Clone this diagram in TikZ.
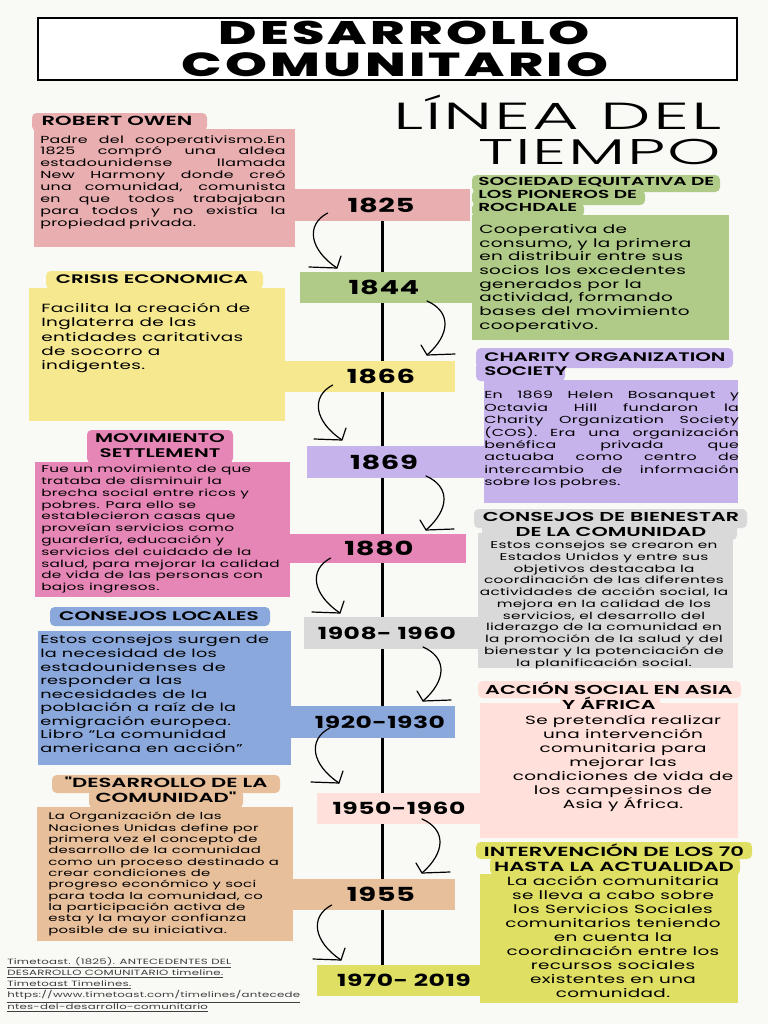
\documentclass[tikz,border=0pt]{standalone}
\usepackage{fontspec}
\setmainfont{Poppins}[LetterSpace=3,FakeStretch=1.55]
\newfontfamily\labelfont{Poppins SemiBold}[FakeStretch=1.6]
\newfontfamily\yearfont{Poppins}[BoldFont={Poppins Bold},LetterSpace=3,FakeStretch=1.5]
\newfontfamily\headfont{Poppins Light}[LetterSpace=5,FakeStretch=1.9]
\newfontfamily\titlefont{Poppins ExtraBold}[LetterSpace=10,FakeStretch=1.6]
\newcommand\fs[2]{\fontsize{#1}{#2}\selectfont\lineskiplimit=-20pt\relax}
\newcommand\jl[1]{\hbox to \hsize{\spaceskip=.3em plus 1fil\xspaceskip=.3em plus 1fil\relax #1}\par}
\newcommand\lastl[1]{\hbox to \hsize{#1\hfil}\par}
\definecolor{paper}{HTML}{F9FAF6}
\definecolor{owenpink}{HTML}{E8AEB0}
\definecolor{rochgreen}{HTML}{B0CB87}
\definecolor{crisisyellow}{HTML}{F5E88F}
\definecolor{charitypurple}{HTML}{C7B3EC}
\definecolor{settlepink}{HTML}{E586B6}
\definecolor{bienestargrey}{HTML}{D9D9D9}
\definecolor{localblue}{HTML}{8BA8DC}
\definecolor{accionrose}{HTML}{FFE0DA}
\definecolor{desatan}{HTML}{E8BF9B}
\definecolor{interlime}{HTML}{DFDF64}
\definecolor{citegrey}{HTML}{3F3F3F}
\tikzset{
  txt/.style={anchor=north west,inner sep=0pt,align=left},
  ctr/.style={anchor=north,inner sep=0pt,align=center},
  lab/.style={inner sep=0pt,align=center},
  sketch/.style={line width=.9pt,line cap=round,line join=round}
}
\newcommand\labsz[1]{\labelfont\fs{#1}{11.2}}
\begin{document}
\begin{tikzpicture}[x=.75pt,y=-.75pt]
  \useasboundingbox (0,0) rectangle (768,1024);
  \fill[paper] (0,0) rectangle (768,1024);
  % title
  \node (titlebox) [draw=black,fill=white,line width=1.2pt,minimum width=524pt,minimum height=46.5pt,inner sep=0pt] at (387.5,49) {};
  \node (title1) [font=\titlefont\fs{24.5}{27},inner sep=0pt] at (404,33) {DESARROLLO};
  \node (title2) [font=\titlefont\fs{25}{27},inner sep=0pt] at (395,65) {COMUNITARIO};
  \node (head1) [font=\headfont\fs{28.3}{34},inner sep=0pt] at (557.5,112) {LÍNEA DEL};
  \node (head2) [font=\headfont\fs{26.8}{34},inner sep=0pt] at (600,152) {TIEMPO};
  % spine
  \coordinate (spinetop) at (382.5,221);
  \coordinate (spinebot) at (382.5,965);
  \draw[line width=2.6pt] (spinetop) -- (spinebot);
  % body boxes
  \foreach \xa/\ya/\xb/\yb/\col in {34/129/295/247/owenpink,472/215/729/340/rochgreen,
    29/288/285/421/crisisyellow,484/380/738/503/charitypurple,35/462/290/597/settlepink,
    478/533/733/668/bienestargrey,38/631/291/765/localblue,480/703/738/838/accionrose,
    37/807/293/941/desatan,480/874/738/1003/interlime} {
    \fill[\col] (\xa,\ya) rectangle (\xb,\yb);
  }
  % year bars
  \foreach \nm/\xa/\ya/\xb/\yb/\tx/\col/\sz/\yr in {y1825/295/189/470/221/381/owenpink/14.5/1825,
    y1844/300/272/472/303/384/rochgreen/14.5/1844,y1866/285/361/455/392/381/crisisyellow/14.5/1866,
    y1869/307/446/484/478/384/charitypurple/14.5/1869,y1880/290/534/466/563/379/settlepink/14.5/1880,
    y1908/304/617/478/649/387/bienestargrey/12.5/1908- 1960,y1920/291/706/455/738/380/localblue/12.5/1920-1930,
    y1950/317/793/480/824/399/accionrose/12.5/1950-1960,y1955/293/879/455/910/381/desatan/14.5/1955,
    y1970/317/965/480/996/404/interlime/12.5/1970- 2019} {
    \fill[\col] (\xa,\ya) rectangle (\xb,\yb);
    \node (\nm) [font=\yearfont\bfseries\fs{\sz}{16},inner sep=0pt] at (\tx,{(\ya+\yb)/2}) {\yr};
  }
  % label tabs
  \foreach \xa/\ya/\xb/\yb/\col in {32/113/207/131/owenpink,472/175/720/192/rochgreen,472/190/645/205/rochgreen,
    472/203/584/217/rochgreen,46/271/263/289/crisisyellow,476/348/733/368/charitypurple,476/362/565/381/charitypurple,
    87/430/233/463/settlepink,474/509/747/528/bienestargrey,482/522/737/540/bienestargrey,50/607/270/626/localblue,
    478/681/741/698/accionrose,560/696/660/712/accionrose,52/775/280/793/desatan,89/790/243/808/desatan,
    476/842/752/859/interlime,490/857/740/875/interlime} {
    \fill[\col,rounded corners=3.5pt] (\xa,\ya) rectangle (\xb,\yb);
  }
  \node (owenlab) [lab,font=\labsz{9.9}] at (117,121) {ROBERT OWEN};
  \node (rochlab) [lab,font=\labelfont\fs{8.7}{9.8},anchor=north west,align=left] at (478,177) {SOCIEDAD EQUITATIVA DE\\LOS PIONEROS DE\\ROCHDALE};
  \node (crisislab) [lab,font=\labsz{9.3}] at (152,279) {CRISIS ECONOMICA};
  \node (charitylab) [lab,font=\labsz{9.3},anchor=north west,align=left] at (484,352) {CHARITY ORGANIZATION\\SOCIETY};
  \node (settlelab) [lab,font=\labsz{9.4}] at (160,446) {MOVIMIENTO\\SETTLEMENT};
  \node (bienlab) [lab,font=\labsz{9.7}] at (611,524) {CONSEJOS DE BIENESTAR\\DE LA COMUNIDAD};
  \node (locallab) [lab,font=\labsz{9.4}] at (159,616) {CONSEJOS LOCALES};
  \node (accionlab) [lab,font=\labsz{9.7}] at (609,696) {ACCIÓN SOCIAL EN ASIA\\Y ÁFRICA};
  \node (desalab) [lab,font=\labsz{9.9}] at (166,790) {"DESARROLLO DE LA\\COMUNIDAD"};
  \node (interlab) [lab,font=\labsz{9.9}] at (614,858) {INTERVENCIÓN DE LOS 70\\HASTA LA ACTUALIDAD};
  % body texts
  \node (owentxt) [txt,text width=184pt,font=\fs{7.65}{8.95}] at (40,135) {%
    \jl{Padre del cooperativismo.En}\jl{1825 compró una aldea}\jl{estadounidense llamada}%
    \jl{New Harmony donde creó}\jl{una comunidad, comunista}\jl{en que todos trabajaban}%
    \jl{para todos y no existía la}\lastl{propiedad privada.}};
  \node (rochtxt) [txt,font=\fs{8.9}{10.3}] at (479,224) {Cooperativa de\\consumo, y la primera\\en distribuir entre sus\\socios los excedentes\\generados por la\\actividad, formando\\bases del movimiento\\cooperativo.};
  \node (crisistxt) [txt,font=\fs{8.9}{10.75}] at (41,303) {Facilita la creación de\\Inglaterra de las\\entidades caritativas\\de socorro a\\indigentes.};
  \node (charitytxt) [txt,text width=191pt,font=\fs{7.65}{9.3}] at (484,391) {%
    \jl{En 1869 Helen Bosanquet y}\jl{Octavia Hill fundaron la}\jl{Charity Organization Society}%
    \jl{(COS). Era una organización}\jl{benéfica privada que}\jl{actuaba como centro de}%
    \jl{intercambio de información}\lastl{sobre los pobres.}};
  \node (settletxt) [txt,font=\fs{7.4}{8.85}] at (41,465) {Fue un movimiento de que\\trataba de disminuir la\\brecha social entre ricos y\\pobres. Para ello se\\establecieron casas que\\proveían servicios como\\guardería, educación y\\servicios del cuidado de la\\salud, para mejorar la calidad\\de vida de las personas con\\bajos ingresos.};
  \node (bientxt) [ctr,font=\fs{7.4}{8.8}] at (604,541) {Estos consejos se crearon en\\Estados Unidos y entre sus\\objetivos destacaba la\\coordinación de las diferentes\\actividades de acción social, la\\mejora en la calidad de los\\servicios, el desarrollo del\\liderazgo de la comunidad en\\la promoción de la salud y del\\bienestar y la potenciación de\\la planificación social.};
  \node (localtxt) [txt,font=\fs{8.55}{10.15}] at (40,635) {Estos consejos surgen de\\la necesidad de los\\estadounidenses de\\responder a las\\necesidades de la\\población a raíz de la\\emigración europea.\\Libro “La comunidad\\americana en acción”};
  \node (acciontxt) [ctr,font=\fs{8.9}{10.5}] at (623,715) {Se pretendía realizar\\una intervención\\comunitaria para\\mejorar las\\condiciones de vida de\\los campesinos de\\Asia y África.};
  \node (desatxt) [txt,font=\fs{7.2}{8.5}] at (48,812) {La Organización de las\\Naciones Unidas define por\\primera vez el concepto de\\desarrollo de la comunidad\\como un proceso destinado a\\crear condiciones de\\progreso económico y soci\\para toda la comunidad, co\\la participación activa de\\esta y la mayor confianza\\posible de su iniciativa.};
  \node (intertxt) [ctr,font=\fs{8.9}{10.5}] at (613,876) {La acción comunitaria\\se lleva a cabo sobre\\los Servicios Sociales\\comunitarios teniendo\\en cuenta la\\coordinación entre los\\recursos sociales\\existentes en una\\comunidad.};
  \node (citetxt) [txt,text=citegrey,font=\fs{5.7}{8.4}] at (7,957) {\underline{Timetoast. (1825). ANTECEDENTES DEL}\\\underline{DESARROLLO COMUNITARIO timeline.}\\\underline{Timetoast Timelines.}\\\underline{https://www.timetoast.com/timelines/antecede}\\\underline{ntes-del-desarrollo-comunitario}};
  % left hand arrows
  \foreach \nm/\sx/\sy in {a/0/0,c/5/172,e/3/345,g/2/515,i/4/692} {
    \begin{scope}[shift={(\sx,\sy)}]
      \coordinate (\nm start) at (327.7,213);
      \coordinate (\nm end) at (337,268);
      \draw[sketch] (\nm start) .. controls (305,225) and (310,250) .. (\nm end);
      \draw[sketch] (309,267) -- (\nm end) -- (341,256);
    \end{scope}
  }
  % right hand arrows
  \foreach \nm/\sx/\sy in {b/0/0,d/-1/175,f/-4/346,h/-5/518} {
    \begin{scope}[shift={(\sx,\sy)}]
      \coordinate (\nm start) at (427,301);
      \coordinate (\nm end) at (427,355);
      \draw[sketch] (\nm start) .. controls (452,312) and (450,335) .. (\nm end);
      \draw[sketch] (455,354) -- (\nm end) -- (421,345);
    \end{scope}
  }
\end{tikzpicture}
\end{document}
